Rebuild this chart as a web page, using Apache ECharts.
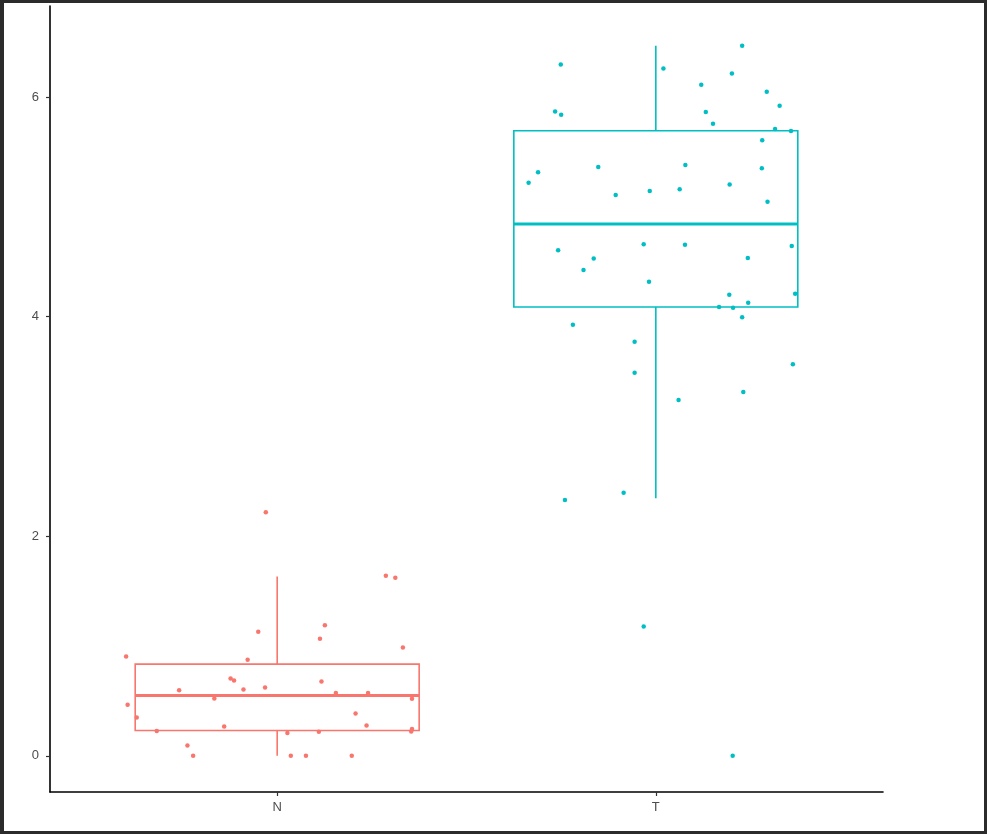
<!DOCTYPE html>
<html>
<head>
<meta charset="utf-8">
<script src="https://cdn.jsdelivr.net/npm/echarts@6/dist/echarts.min.js"></script>
<style>
  html, body { margin: 0; padding: 0; background: #ffffff; }
  #chart { position: absolute; left: 0; top: 0; width: 987px; height: 834px; }
  #frame { position: absolute; left: 0; top: 0; width: 987px; height: 834px; box-sizing: border-box;
           border: 3px solid #2b2b2b; border-left-width: 4px; pointer-events: none; }
</style>
</head>
<body>
<div id="chart"></div>
<div id="frame"></div>
<script>
// ---- data ----
const categories = ['N', 'T'];
const yTicks = [0, 2, 4, 6];

// box statistics: [lowerWhisker, q1, median, q3, upperWhisker]
const boxN = [0.0, 0.23, 0.549, 0.835, 1.632];
const boxT = [2.346, 4.088, 4.844, 5.693, 6.467];

// jittered points (values and horizontal jitter offsets from category centre)
const valuesN = [2.219, 1.639, 1.621, 1.129, 1.190, 1.065, 0.986, 0.904, 0.874, 0.704,
                 0.686, 0.677, 0.598, 0.604, 0.622, 0.571, 0.571, 0.522, 0.519, 0.464,
                 0.385, 0.349, 0.276, 0.267, 0.225, 0.207, 0.219, 0.243, 0.221, 0.094,
                 0.0, 0.0, 0.0, 0.0];
const jitterN = [-0.030, 0.287, 0.312, -0.050, 0.126, 0.113, 0.332, -0.399, -0.078, -0.123,
                 -0.114, 0.117, -0.259, -0.089, -0.032, 0.155, 0.240, -0.166, 0.356, -0.395,
                 0.207, -0.371, 0.236, -0.140, -0.318, 0.027, 0.110, 0.356, 0.354, -0.237,
                 -0.222, 0.036, 0.076, 0.197];

const valuesT = [6.467, 6.298, 6.261, 6.216, 6.113, 6.049, 5.921, 5.870, 5.840, 5.864,
                 5.757, 5.709, 5.691, 5.606, 5.315, 5.220, 5.363, 5.381, 5.351, 5.108,
                 5.144, 5.160, 5.205, 5.047, 4.604, 4.659, 4.656, 4.643, 4.531, 4.534,
                 4.425, 4.319, 4.200, 4.209, 4.127, 4.088, 4.082, 3.994, 3.927, 3.772,
                 3.490, 3.566, 3.314, 3.241, 2.395, 2.331, 1.178, 0.0];
const jitterT = [0.228, -0.251, 0.020, 0.201, 0.120, 0.293, 0.327, -0.266, -0.250, 0.132,
                 0.151, 0.315, 0.357, 0.281, -0.311, -0.336, -0.152, 0.078, 0.280, -0.106,
                 -0.016, 0.063, 0.195, 0.295, -0.258, -0.032, 0.077, 0.359, -0.164, 0.243,
                 -0.191, -0.018, 0.194, 0.368, 0.244, 0.167, 0.204, 0.228, -0.219, -0.056,
                 -0.056, 0.362, 0.231, 0.060, -0.085, -0.240, -0.032, 0.203];

const colors = ['#F8766D', '#00BFC4'];
const boxHalfWidth = 0.375;

// ---- build ----
const boxes = [boxN, boxT];
const groupValues = [valuesN, valuesT];
const groupJitter = [jitterN, jitterT];

function boxSeries(idx) {
  const b = boxes[idx];
  const color = colors[idx];
  return {
    type: 'custom',
    z: 2,
    encode: { x: 0, y: [1, 2, 3, 4, 5] },
    data: [[idx + 1, b[0], b[1], b[2], b[3], b[4]]],
    renderItem: function (params, api) {
      const x = api.value(0);
      const lo = api.value(1), q1 = api.value(2), med = api.value(3), q3 = api.value(4), hi = api.value(5);
      const pL = api.coord([x - boxHalfWidth, q3]);
      const pR = api.coord([x + boxHalfWidth, q1]);
      const c = api.coord([x, med]);
      const pHi = api.coord([x, hi]);
      const pLo = api.coord([x, lo]);
      const pQ3 = api.coord([x, q3]);
      const pQ1 = api.coord([x, q1]);
      const lineStyle = { stroke: color, lineWidth: 1.6, fill: null };
      return {
        type: 'group',
        children: [
          { type: 'line', shape: { x1: pHi[0], y1: pHi[1], x2: pQ3[0], y2: pQ3[1] }, style: lineStyle },
          { type: 'line', shape: { x1: pQ1[0], y1: pQ1[1], x2: pLo[0], y2: pLo[1] }, style: lineStyle },
          { type: 'rect', shape: { x: pL[0], y: pL[1], width: pR[0] - pL[0], height: pR[1] - pL[1] },
            style: { stroke: color, lineWidth: 1.6, fill: '#ffffff' } },
          { type: 'line', shape: { x1: pL[0], y1: c[1], x2: pR[0], y2: c[1] },
            style: { stroke: color, lineWidth: 3.2 } }
        ]
      };
    }
  };
}

function pointSeries(idx) {
  const vals = groupValues[idx];
  const jit = groupJitter[idx];
  return {
    type: 'scatter',
    z: 3,
    symbol: 'circle',
    symbolSize: 4.5,
    itemStyle: { color: colors[idx], opacity: 1 },
    data: vals.map((v, i) => [idx + 1 + jit[i], v]),
    emphasis: { disabled: true }
  };
}

const axisFont = { fontFamily: 'Liberation Sans, Arial, sans-serif', fontSize: 13, color: '#4D4D4D' };

const option = {
  animation: false,
  backgroundColor: '#ffffff',
  grid: { left: 50, right: 104, top: 6, bottom: 42, containLabel: false },
  xAxis: {
    type: 'value',
    min: 0.4,
    max: 2.6,
    splitLine: { show: false },
    axisLine: { show: true, onZero: false, lineStyle: { color: '#000000', width: 1.6 } },
    axisTick: { show: true, length: 4, customValues: [1, 2], lineStyle: { color: '#333333', width: 1.2 } },
    axisLabel: Object.assign({
      customValues: [1, 2],
      margin: 9,
      formatter: function (v) { return categories[Math.round(v) - 1] || ''; }
    }, axisFont)
  },
  yAxis: {
    type: 'value',
    min: -0.33,
    max: 6.83,
    splitLine: { show: false },
    axisLine: { show: true, onZero: false, lineStyle: { color: '#000000', width: 1.6 } },
    axisTick: { show: true, length: 4, customValues: yTicks, lineStyle: { color: '#333333', width: 1.2 } },
    axisLabel: Object.assign({ customValues: yTicks, margin: 11 }, axisFont)
  },
  series: [boxSeries(0), boxSeries(1), pointSeries(0), pointSeries(1)]
};

const chart = echarts.init(document.getElementById('chart'), null, { renderer: 'canvas' });
chart.setOption(option);
</script>
</body>
</html>
